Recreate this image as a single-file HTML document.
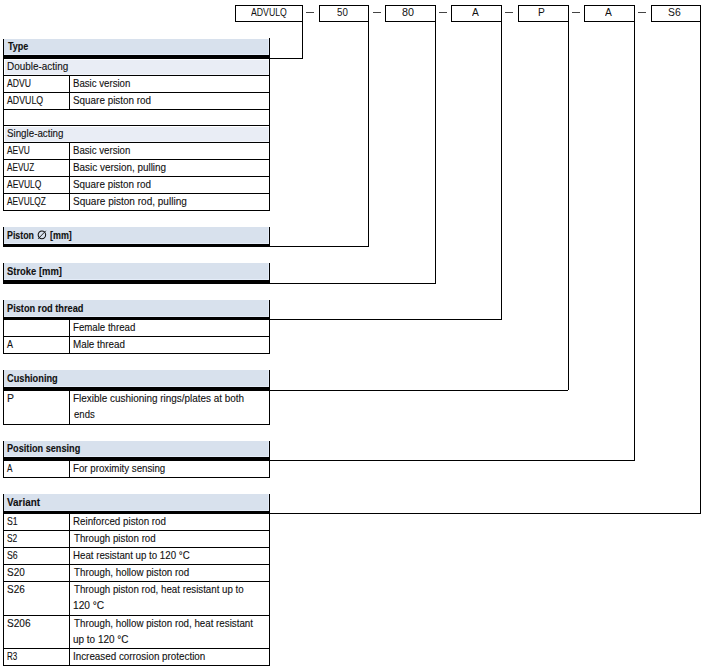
<!DOCTYPE html>
<html><head><meta charset="utf-8"><style>
html,body{margin:0;padding:0;background:#fff;width:709px;height:672px;overflow:hidden}
body{position:relative}
div,svg,span{position:absolute;box-sizing:content-box}
.t{font-family:"Liberation Sans",sans-serif;font-size:11px;line-height:11px;color:#111;white-space:nowrap;transform-origin:0 0;-webkit-text-stroke:0.12px #111}
.b{-webkit-text-stroke:0}
</style></head><body>
<div style="left:4px;top:39px;width:265px;height:16px;background:#d8e1ed"></div>
<div style="left:4px;top:54px;width:265px;height:1px;background:#e4ecf8"></div>
<div style="left:268px;top:39px;width:1px;height:16px;background:#e4ecf8"></div>
<div style="left:3px;top:55px;width:267px;height:4px;background:#000"></div>
<div style="left:3px;top:39px;width:1px;height:20px;background:#000"></div>
<div style="left:269px;top:38px;width:1px;height:21px;background:#000"></div>
<div style="left:269px;top:58px;width:34px;height:1px;background:#000"></div>
<div style="left:302px;top:21px;width:1px;height:38px;background:#000"></div>
<div style="left:5px;top:60px;width:263px;height:14px;background:#e9edf5"></div>
<div style="left:268px;top:60px;width:1px;height:15px;background:#f1f4fa"></div>
<div style="left:5px;top:74px;width:263px;height:1px;background:#f1f4fa"></div>
<div style="left:3px;top:75px;width:267px;height:1px;background:#000"></div>
<div style="left:3px;top:92px;width:267px;height:1px;background:#000"></div>
<div style="left:3px;top:109px;width:267px;height:1px;background:#000"></div>
<div style="left:3px;top:125px;width:267px;height:1px;background:#000"></div>
<div style="left:3px;top:142px;width:267px;height:1px;background:#000"></div>
<div style="left:3px;top:159px;width:267px;height:1px;background:#000"></div>
<div style="left:3px;top:176px;width:267px;height:1px;background:#000"></div>
<div style="left:3px;top:193px;width:267px;height:1px;background:#000"></div>
<div style="left:3px;top:210px;width:267px;height:1px;background:#000"></div>
<div style="left:5px;top:127px;width:263px;height:14px;background:#e9edf5"></div>
<div style="left:268px;top:127px;width:1px;height:15px;background:#f1f4fa"></div>
<div style="left:5px;top:141px;width:263px;height:1px;background:#f1f4fa"></div>
<div style="left:3px;top:39px;width:1px;height:172px;background:#000"></div>
<div style="left:269px;top:38px;width:1px;height:173px;background:#000"></div>
<div style="left:69px;top:75px;width:1px;height:35px;background:#000"></div>
<div style="left:69px;top:142px;width:1px;height:69px;background:#000"></div>
<div style="left:4px;top:227px;width:265px;height:17px;background:#d8e1ed"></div>
<div style="left:4px;top:243px;width:265px;height:1px;background:#e4ecf8"></div>
<div style="left:268px;top:227px;width:1px;height:17px;background:#e4ecf8"></div>
<div style="left:3px;top:244px;width:267px;height:3px;background:#000"></div>
<div style="left:3px;top:227px;width:1px;height:20px;background:#000"></div>
<div style="left:269px;top:227px;width:1px;height:20px;background:#000"></div>
<div style="left:269px;top:246px;width:100px;height:1px;background:#000"></div>
<div style="left:368px;top:21px;width:1px;height:226px;background:#000"></div>
<svg style="left:37px;top:229px" width="11" height="12" viewBox="0 0 11 12"><ellipse cx="4.9" cy="5.8" rx="3.75" ry="3.9" fill="none" stroke="#111" stroke-width="1.05"/><line x1="1.2" y1="9.8" x2="8.8" y2="1.8" stroke="#111" stroke-width="0.9"/></svg>
<div style="left:4px;top:263px;width:265px;height:17px;background:#d8e1ed"></div>
<div style="left:4px;top:279px;width:265px;height:1px;background:#e4ecf8"></div>
<div style="left:268px;top:263px;width:1px;height:17px;background:#e4ecf8"></div>
<div style="left:3px;top:280px;width:267px;height:4px;background:#000"></div>
<div style="left:3px;top:263px;width:1px;height:21px;background:#000"></div>
<div style="left:269px;top:263px;width:1px;height:21px;background:#000"></div>
<div style="left:269px;top:283px;width:167px;height:1px;background:#000"></div>
<div style="left:435px;top:21px;width:1px;height:263px;background:#000"></div>
<div style="left:4px;top:300px;width:265px;height:17px;background:#d8e1ed"></div>
<div style="left:4px;top:316px;width:265px;height:1px;background:#e4ecf8"></div>
<div style="left:268px;top:300px;width:1px;height:17px;background:#e4ecf8"></div>
<div style="left:3px;top:317px;width:267px;height:3px;background:#000"></div>
<div style="left:3px;top:300px;width:1px;height:20px;background:#000"></div>
<div style="left:269px;top:300px;width:1px;height:20px;background:#000"></div>
<div style="left:269px;top:319px;width:233px;height:1px;background:#000"></div>
<div style="left:501px;top:21px;width:1px;height:299px;background:#000"></div>
<div style="left:3px;top:336px;width:267px;height:1px;background:#000"></div>
<div style="left:3px;top:353px;width:267px;height:1px;background:#000"></div>
<div style="left:3px;top:319px;width:1px;height:35px;background:#000"></div>
<div style="left:269px;top:319px;width:1px;height:35px;background:#000"></div>
<div style="left:69px;top:319px;width:1px;height:35px;background:#000"></div>
<div style="left:4px;top:370px;width:265px;height:17px;background:#d8e1ed"></div>
<div style="left:4px;top:386px;width:265px;height:1px;background:#e4ecf8"></div>
<div style="left:268px;top:370px;width:1px;height:17px;background:#e4ecf8"></div>
<div style="left:3px;top:387px;width:267px;height:4px;background:#000"></div>
<div style="left:3px;top:370px;width:1px;height:21px;background:#000"></div>
<div style="left:269px;top:370px;width:1px;height:21px;background:#000"></div>
<div style="left:269px;top:390px;width:299px;height:1px;background:#000"></div>
<div style="left:568px;top:21px;width:1px;height:369px;background:#000"></div>
<div style="left:3px;top:424px;width:267px;height:1px;background:#000"></div>
<div style="left:3px;top:390px;width:1px;height:35px;background:#000"></div>
<div style="left:269px;top:390px;width:1px;height:35px;background:#000"></div>
<div style="left:69px;top:390px;width:1px;height:35px;background:#000"></div>
<div style="left:4px;top:441px;width:265px;height:16px;background:#d8e1ed"></div>
<div style="left:4px;top:456px;width:265px;height:1px;background:#e4ecf8"></div>
<div style="left:268px;top:441px;width:1px;height:16px;background:#e4ecf8"></div>
<div style="left:3px;top:457px;width:267px;height:4px;background:#000"></div>
<div style="left:3px;top:441px;width:1px;height:20px;background:#000"></div>
<div style="left:269px;top:441px;width:1px;height:20px;background:#000"></div>
<div style="left:269px;top:460px;width:366px;height:1px;background:#000"></div>
<div style="left:634px;top:21px;width:1px;height:440px;background:#000"></div>
<div style="left:3px;top:477px;width:267px;height:1px;background:#000"></div>
<div style="left:3px;top:460px;width:1px;height:18px;background:#000"></div>
<div style="left:269px;top:460px;width:1px;height:18px;background:#000"></div>
<div style="left:69px;top:460px;width:1px;height:18px;background:#000"></div>
<div style="left:4px;top:494px;width:265px;height:17px;background:#d8e1ed"></div>
<div style="left:4px;top:510px;width:265px;height:1px;background:#e4ecf8"></div>
<div style="left:268px;top:494px;width:1px;height:17px;background:#e4ecf8"></div>
<div style="left:3px;top:511px;width:267px;height:3px;background:#000"></div>
<div style="left:3px;top:494px;width:1px;height:20px;background:#000"></div>
<div style="left:269px;top:494px;width:1px;height:20px;background:#000"></div>
<div style="left:269px;top:513px;width:432px;height:1px;background:#000"></div>
<div style="left:700px;top:21px;width:1px;height:493px;background:#000"></div>
<div style="left:3px;top:530px;width:267px;height:1px;background:#000"></div>
<div style="left:3px;top:547px;width:267px;height:1px;background:#000"></div>
<div style="left:3px;top:564px;width:267px;height:1px;background:#000"></div>
<div style="left:3px;top:581px;width:267px;height:1px;background:#000"></div>
<div style="left:3px;top:615px;width:267px;height:1px;background:#000"></div>
<div style="left:3px;top:648px;width:267px;height:1px;background:#000"></div>
<div style="left:3px;top:665px;width:267px;height:1px;background:#000"></div>
<div style="left:3px;top:513px;width:1px;height:153px;background:#000"></div>
<div style="left:269px;top:513px;width:1px;height:153px;background:#000"></div>
<div style="left:69px;top:513px;width:1px;height:153px;background:#000"></div>
<div style="left:235px;top:5px;width:66px;height:15px;border:1px solid #000"></div>
<div style="left:319px;top:5px;width:48px;height:15px;border:1px solid #000"></div>
<div style="left:385px;top:5px;width:49px;height:15px;border:1px solid #000"></div>
<div style="left:451px;top:5px;width:49px;height:15px;border:1px solid #000"></div>
<div style="left:518px;top:5px;width:49px;height:15px;border:1px solid #000"></div>
<div style="left:584px;top:5px;width:49px;height:15px;border:1px solid #000"></div>
<div style="left:651px;top:5px;width:48px;height:15px;border:1px solid #000"></div>
<div style="left:306px;top:12px;width:8px;height:1px;background:#444"></div>
<div style="left:373px;top:12px;width:8px;height:1px;background:#444"></div>
<div style="left:439px;top:12px;width:8px;height:1px;background:#444"></div>
<div style="left:505px;top:12px;width:8px;height:1px;background:#444"></div>
<div style="left:572px;top:12px;width:8px;height:1px;background:#444"></div>
<div style="left:638px;top:12px;width:8px;height:1px;background:#444"></div>
<span id="t0" class="t" style="left:8.09px;top:40.69px;font-weight:bold;transform:scaleX(0.8200)">Type</span>
<span id="t1" class="t" style="left:7.24px;top:60.69px;font-weight:normal;transform:scaleX(0.9015)">Double-acting</span>
<span id="t2" class="t" style="left:7.25px;top:127.69px;font-weight:normal;transform:scaleX(0.8873)">Single-acting</span>
<span id="t3" class="t" style="left:7.29px;top:77.69px;font-weight:normal;transform:scaleX(0.7833)">ADVU</span>
<span id="t4" class="t" style="left:73.12px;top:77.69px;font-weight:normal;transform:scaleX(0.8766)">Basic version</span>
<span id="t5" class="t" style="left:7.28px;top:94.69px;font-weight:normal;transform:scaleX(0.7977)">ADVULQ</span>
<span id="t6" class="t" style="left:73.10px;top:94.69px;font-weight:normal;transform:scaleX(0.8988)">Square piston rod</span>
<span id="t7" class="t" style="left:7.30px;top:144.69px;font-weight:normal;transform:scaleX(0.7621)">AEVU</span>
<span id="t8" class="t" style="left:73.12px;top:144.69px;font-weight:normal;transform:scaleX(0.8766)">Basic version</span>
<span id="t9" class="t" style="left:7.30px;top:161.69px;font-weight:normal;transform:scaleX(0.7417)">AEVUZ</span>
<span id="t10" class="t" style="left:73.10px;top:161.69px;font-weight:normal;transform:scaleX(0.9010)">Basic version, pulling</span>
<span id="t11" class="t" style="left:7.29px;top:178.69px;font-weight:normal;transform:scaleX(0.7682)">AEVULQ</span>
<span id="t12" class="t" style="left:73.10px;top:178.69px;font-weight:normal;transform:scaleX(0.8988)">Square piston rod</span>
<span id="t13" class="t" style="left:7.30px;top:195.69px;font-weight:normal;transform:scaleX(0.7569)">AEVULQZ</span>
<span id="t14" class="t" style="left:73.09px;top:195.69px;font-weight:normal;transform:scaleX(0.9122)">Square piston rod, pulling</span>
<span id="t15" class="t" style="left:7.02px;top:229.69px;font-weight:bold;transform:scaleX(0.8031)">Piston</span>
<span id="t16" class="t" style="left:49.64px;top:229.69px;font-weight:bold;transform:scaleX(0.8115)">[mm]</span>
<span id="t17" class="t" style="left:7.26px;top:265.69px;font-weight:bold;transform:scaleX(0.8556)">Stroke [mm]</span>
<span id="t18" class="t" style="left:7.26px;top:302.69px;font-weight:bold;transform:scaleX(0.8400)">Piston rod thread</span>
<span id="t19" class="t" style="left:73.12px;top:321.69px;font-weight:normal;transform:scaleX(0.8783)">Female thread</span>
<span id="t20" class="t" style="left:7.27px;top:338.69px;font-weight:normal;transform:scaleX(0.8143)">A</span>
<span id="t21" class="t" style="left:73.11px;top:338.69px;font-weight:normal;transform:scaleX(0.8947)">Male thread</span>
<span id="t22" class="t" style="left:7.26px;top:372.69px;font-weight:bold;transform:scaleX(0.8383)">Cushioning</span>
<span id="t23" class="t" style="left:7.22px;top:392.69px;font-weight:normal;transform:scaleX(0.9500)">P</span>
<span id="t24" class="t" style="left:73.10px;top:392.69px;font-weight:normal;transform:scaleX(0.9027)">Flexible cushioning rings/plates at both</span>
<span id="t25" class="t" style="left:74.00px;top:408.69px;font-weight:normal;transform:scaleX(0.8696)">ends</span>
<span id="t26" class="t" style="left:7.27px;top:442.69px;font-weight:bold;transform:scaleX(0.8322)">Position sensing</span>
<span id="t27" class="t" style="left:7.30px;top:462.69px;font-weight:normal;transform:scaleX(0.7429)">A</span>
<span id="t28" class="t" style="left:73.12px;top:462.69px;font-weight:normal;transform:scaleX(0.8825)">For proximity sensing</span>
<span id="t29" class="t" style="left:7.24px;top:496.69px;font-weight:bold;transform:scaleX(0.9000)">Variant</span>
<span id="t30" class="t" style="left:7.28px;top:515.69px;font-weight:normal;transform:scaleX(0.7923)">S1</span>
<span id="t31" class="t" style="left:73.11px;top:515.69px;font-weight:normal;transform:scaleX(0.8893)">Reinforced piston rod</span>
<span id="t32" class="t" style="left:7.30px;top:532.69px;font-weight:normal;transform:scaleX(0.7615)">S2</span>
<span id="t33" class="t" style="left:74.00px;top:532.69px;font-weight:normal;transform:scaleX(0.8848)">Through piston rod</span>
<span id="t34" class="t" style="left:7.28px;top:549.69px;font-weight:normal;transform:scaleX(0.7923)">S6</span>
<span id="t35" class="t" style="left:73.12px;top:549.69px;font-weight:normal;transform:scaleX(0.8824)">Heat resistant up to 120 °C</span>
<span id="t36" class="t" style="left:7.24px;top:566.69px;font-weight:normal;transform:scaleX(0.9053)">S20</span>
<span id="t37" class="t" style="left:74.00px;top:566.69px;font-weight:normal;transform:scaleX(0.8876)">Through, hollow piston rod</span>
<span id="t38" class="t" style="left:7.24px;top:583.69px;font-weight:normal;transform:scaleX(0.9053)">S26</span>
<span id="t39" class="t" style="left:74.00px;top:583.69px;font-weight:normal;transform:scaleX(0.8839)">Through piston rod, heat resistant up to</span>
<span id="t40" class="t" style="left:73.08px;top:599.69px;font-weight:normal;transform:scaleX(0.9250)">120 °C</span>
<span id="t41" class="t" style="left:7.23px;top:617.69px;font-weight:normal;transform:scaleX(0.9160)">S206</span>
<span id="t42" class="t" style="left:74.00px;top:617.69px;font-weight:normal;transform:scaleX(0.8871)">Through, hollow piston rod, heat resistant</span>
<span id="t43" class="t" style="left:73.09px;top:633.69px;font-weight:normal;transform:scaleX(0.9050)">up to 120 °C</span>
<span id="t44" class="t" style="left:7.31px;top:650.69px;font-weight:normal;transform:scaleX(0.7308)">R3</span>
<span id="t45" class="t" style="left:73.11px;top:650.69px;font-weight:normal;transform:scaleX(0.8938)">Increased corrosion protection</span>
<span id="t46" class="t b" style="left:250.54px;top:6.69px;font-weight:normal;transform:scaleX(0.7911)">ADVULQ</span>
<span id="t47" class="t b" style="left:337.25px;top:6.69px;font-weight:normal;transform:scaleX(0.8833)">50</span>
<span id="t48" class="t b" style="left:402.21px;top:6.69px;font-weight:normal;transform:scaleX(0.9750)">80</span>
<span id="t49" class="t b" style="left:472.00px;top:6.69px;font-weight:normal;transform:scaleX(0.9286)">A</span>
<span id="t50" class="t b" style="left:538.45px;top:6.69px;font-weight:normal;transform:scaleX(0.9333)">P</span>
<span id="t51" class="t b" style="left:605.00px;top:6.69px;font-weight:normal;transform:scaleX(0.9286)">A</span>
<span id="t52" class="t b" style="left:668.06px;top:6.69px;font-weight:normal;transform:scaleX(0.9417)">S6</span>
</body></html>
